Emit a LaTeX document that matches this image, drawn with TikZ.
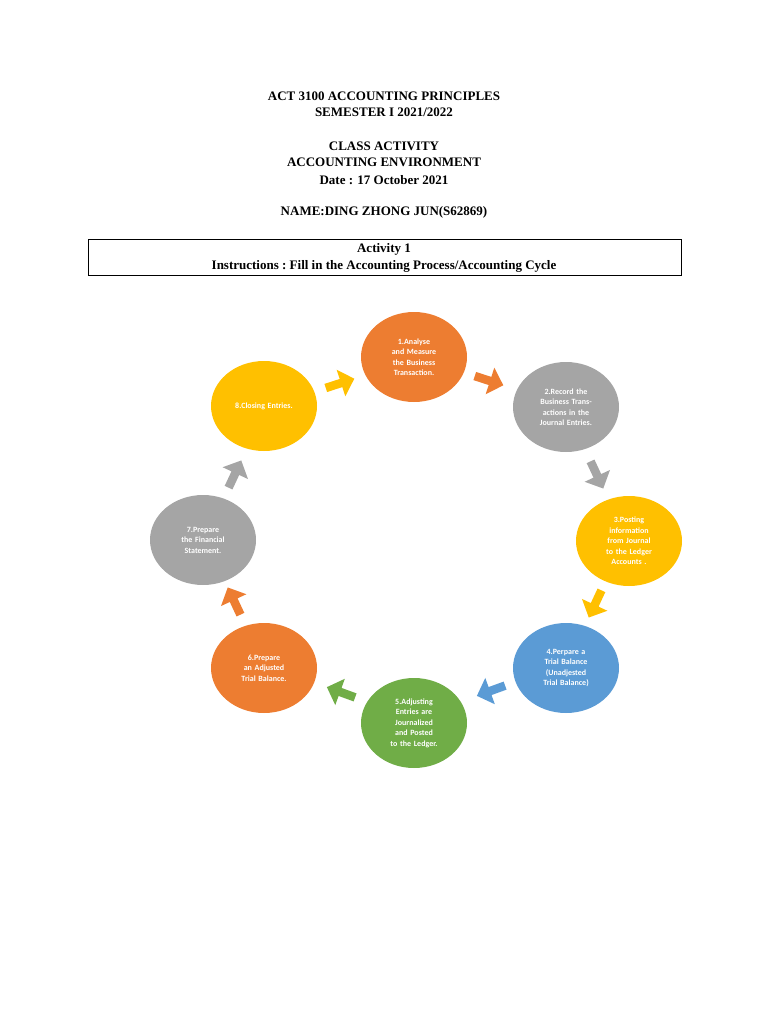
\documentclass[tikz,border=0pt]{standalone}
\usepackage{fontspec}
\setmainfont{Liberation Serif}
\newfontfamily\carlitofont{Carlito}
\usetikzlibrary{shapes.geometric,shapes.arrows}
\definecolor{cor}{HTML}{ED7D31}
\definecolor{cgr}{HTML}{A5A5A5}
\definecolor{cye}{HTML}{FFC000}
\definecolor{cbl}{HTML}{5B9BD5}
\definecolor{cgn}{HTML}{70AD47}
\begin{document}
\begin{tikzpicture}[x=1pt,y=-1pt,
 hd/.style={font=\bfseries\fontsize{13}{15}\selectfont},
 stage/.style={ellipse,fill=#1,minimum width=106pt,minimum height=90pt,inner sep=0pt,text width=60pt,align=center,text=white,font=\carlitofont\bfseries\fontsize{8}{10.5}\selectfont},
 blk/.style={single arrow,fill=#1,minimum height=30pt,minimum width=28pt,single arrow head extend=5pt,inner sep=2pt}]
\useasboundingbox (0,0) rectangle (768,1024);
\node[hd] (h1) at (384,96) {ACT 3100 ACCOUNTING PRINCIPLES};
\node[hd] (h2) at (384,112) {SEMESTER I 2021/2022};
\node[hd] (h3) at (384,146) {CLASS ACTIVITY};
\node[hd] (h4) at (384,162) {ACCOUNTING ENVIRONMENT};
\node[hd] (h5) at (384,180) {Date : 17 October 2021};
\node[hd] (h6) at (384,212) {NAME:DING ZHONG JUN(S62869)};
\draw (88,239) rectangle (681,275);
\node[hd] (a1) at (384,249) {Activity 1};
\node[hd] (a2) at (384,266) {Instructions :\ Fill in the Accounting Process/Accounting Cycle};
\node[stage=cor] (s1) at (414,357) {1.Analyse and Measure the Business Transaction.};
\node[stage=cgr] (s2) at (566,407) {2.Record the Business Transactions in the Journal Entries.};
\node[stage=cye] (s3) at (629,541) {3.Posting information from Journal to the Ledger Accounts .};
\node[stage=cbl] (s4) at (566,668) {4.Perpare a Trial Balance (Unadjested Trial Balance)};
\node[stage=cgn] (s5) at (414,723) {5.Adjusting Entries are Journalized and Posted to the Ledger.};
\node[stage=cor] (s6) at (264,668) {6.Prepare an Adjusted Trial Balance.};
\node[stage=cgr] (s7) at (203,540) {7.Prepare the Financial Statement.};
\node[stage=cye] (s8) at (264,406) {8.Closing Entries.};
\node[blk=cye,rotate=18] (b81) at (338,384) {};
\node[blk=cor,rotate=-18] (b12) at (487,380) {};
\node[blk=cgr,rotate=-65] (b23) at (596,473) {};
\node[blk=cye,rotate=-115] (b34) at (596,602) {};
\node[blk=cbl,rotate=200] (b45) at (493,690) {};
\node[blk=cgn,rotate=160] (b56) at (343,693) {};
\node[blk=cor,rotate=115] (b67) at (235,603) {};
\node[blk=cgr,rotate=65] (b78) at (234,476) {};
\end{tikzpicture}
\end{document}
